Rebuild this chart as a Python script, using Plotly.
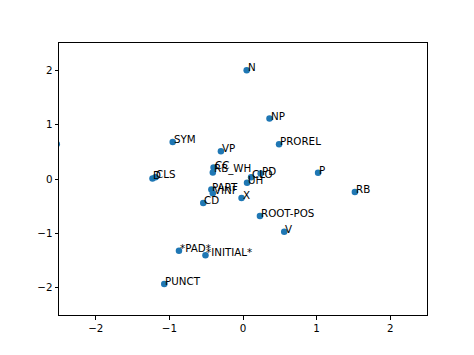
import plotly.graph_objects as go

labels = ["N", "NP", "PROREL", "P", "RB", "ROOT-POS", "V", "X", "UH", "CLO", "PD",
          "VP", "SYM", "CC", "RB_WH", "D", "CLS", "PART", "VINF", "CD",
          "*PAD*", "*INITIAL*", "PUNCT", ""]
xs = [0.05, 0.36, 0.49, 1.02, 1.52, 0.23, 0.56, -0.02, 0.055, 0.11, 0.24,
      -0.30, -0.955, -0.40, -0.41, -1.23, -1.19, -0.43, -0.41, -0.54,
      -0.87, -0.51, -1.07, -2.53]
ys = [2.0, 1.11, 0.64, 0.115, -0.24, -0.68, -0.97, -0.35, -0.07, 0.03, 0.10,
      0.51, 0.68, 0.21, 0.12, 0.01, 0.03, -0.195, -0.26, -0.44,
      -1.32, -1.40, -1.93, 0.64]

x_range = [-2.5, 2.5]
y_range = [-2.5, 2.5]
x_ticks = [-2, -1, 0, 1, 2]
y_ticks = [-2, -1, 0, 1, 2]

fig = go.Figure()
fig.add_trace(go.Scatter(
    x=xs, y=ys, mode="markers",
    marker=dict(size=6.5, color="#1f77b4"),
    cliponaxis=True, showlegend=False, hoverinfo="skip"))

for lab, x, y in zip(labels, xs, ys):
    if not lab or not (x_range[0] <= x <= x_range[1]):
        continue
    fig.add_annotation(x=x, y=y, text=lab, showarrow=False,
                       xanchor="left", yanchor="bottom",
                       xshift=-1, yshift=-5,
                       font=dict(family="DejaVu Sans", size=10.3, color="black"))

axis_common = dict(showgrid=False, zeroline=False, showline=True, linecolor="black",
                   linewidth=1, mirror=True, ticks="outside", ticklen=3.5,
                   tickwidth=1, tickcolor="black",
                   tickfont=dict(family="DejaVu Sans", size=10.3, color="black"))
fig.update_xaxes(range=x_range, tickvals=x_ticks, **axis_common)
fig.update_yaxes(range=y_range, tickvals=y_ticks, **axis_common)

fig.update_layout(width=474, height=355,
                  margin=dict(l=59, r=47, t=43, b=40),
                  paper_bgcolor="white", plot_bgcolor="white")
fig.write_html("out.html")
